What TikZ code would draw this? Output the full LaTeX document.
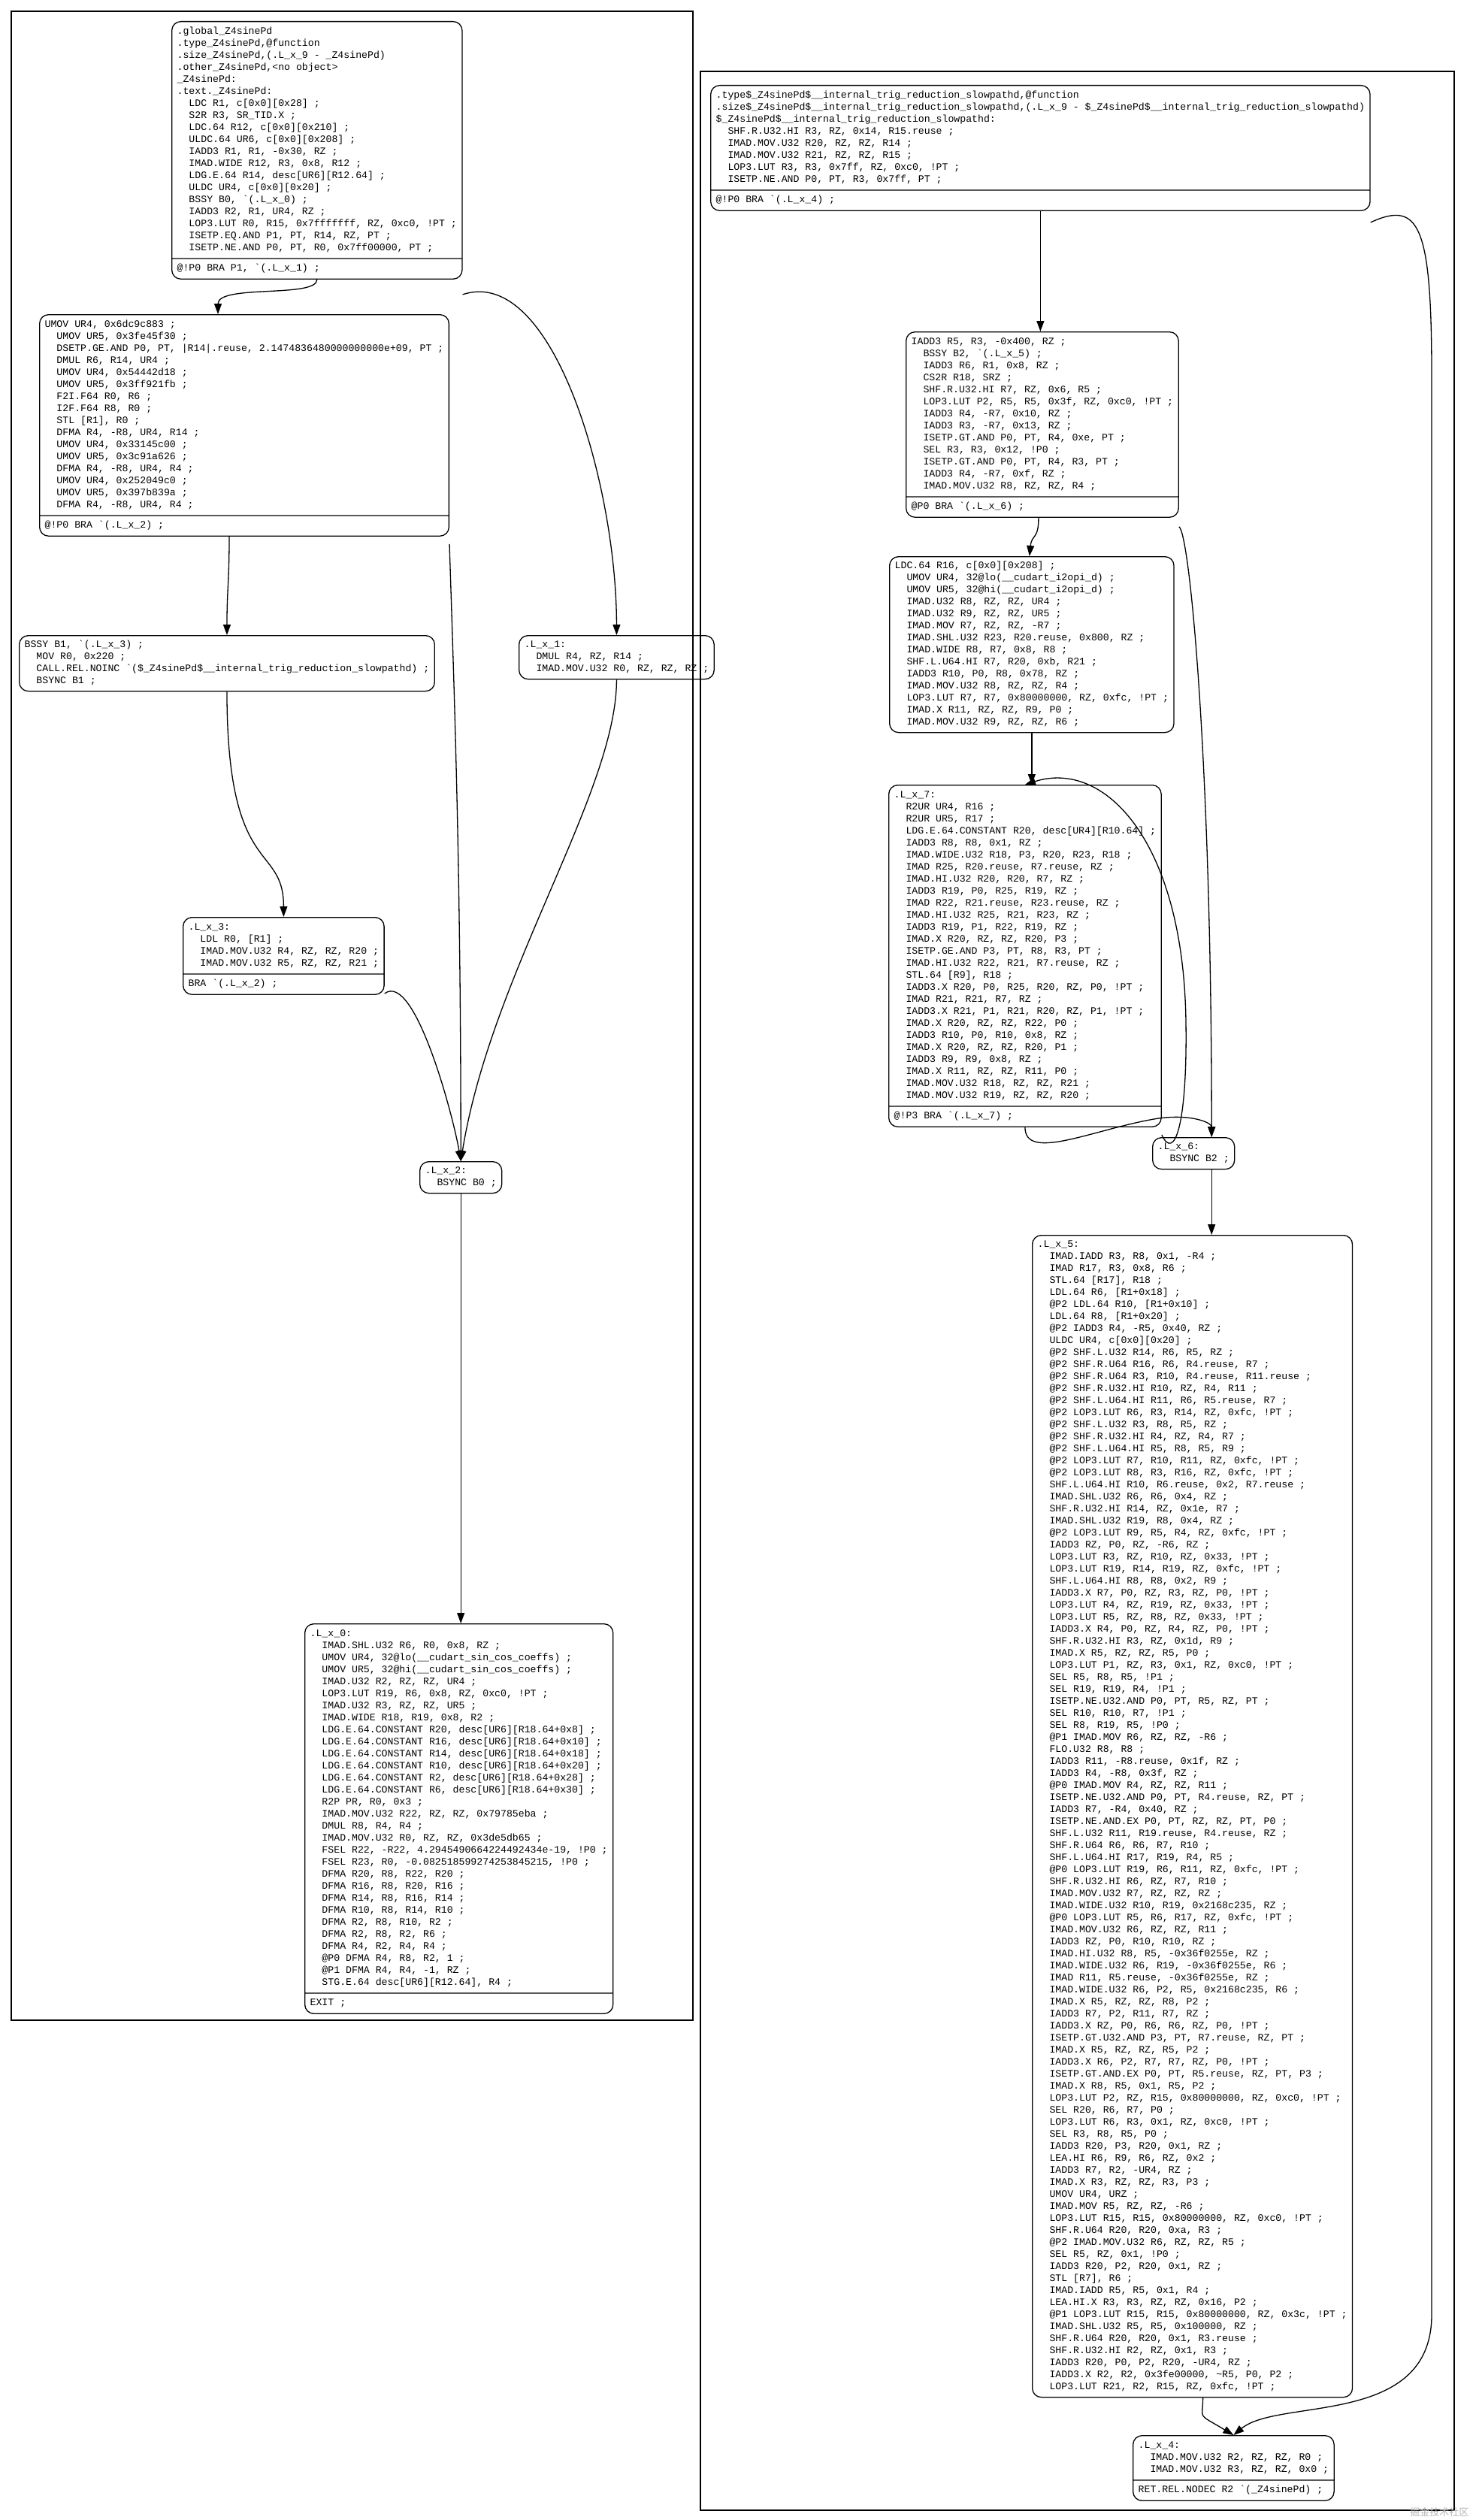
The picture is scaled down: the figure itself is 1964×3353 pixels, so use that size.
\documentclass[tikz,border=0pt]{standalone}
\usepackage{fontspec}
\setmonofont{Liberation Mono}
\newfontfamily\cjk{Noto Sans CJK SC}
\usetikzlibrary{shapes.multipart,arrows.meta,calc}
\newcommand{\code}{\ttfamily\fontsize{13.2}{16}\selectfont}
\newcommand{\ind}{\phantom{xx}}
\newcommand{\lines}[1]{\begin{tabular}{@{}l@{}}#1\end{tabular}}
\tikzset{
  bb/.style={draw, line width=1.3pt, rounded corners=12pt, anchor=north west,
    font=\code, inner xsep=7pt, inner ysep=5pt},
  blk/.style={bb, rectangle split, rectangle split parts=2,
    rectangle split part align=left},
  edge/.style={line width=1.3pt, -{Triangle[length=14pt,width=10pt]}},
  clu/.style={draw, line width=1.3pt}
}
\begin{document}
\begin{tikzpicture}[x=1pt,y=-1pt]
\useasboundingbox (0,0) rectangle (1964,3353);
%Cluster
	\draw[clu] (15,15) rectangle (922,2688);
	\draw[clu] (932,95) rectangle (1935,3340);
%linke Seite
	\node[blk] (entry) at (228,28) {\lines{.global\_Z4sinePd\\
.type\_Z4sinePd,@function\\
.size\_Z4sinePd,(.L\_x\_9 - \_Z4sinePd)\\
.other\_Z4sinePd,<no object>\\
\_Z4sinePd:\\
.text.\_Z4sinePd:\\
\ind LDC R1, c[0x0][0x28] ;\\
\ind S2R R3, SR\_TID.X ;\\
\ind LDC.64 R12, c[0x0][0x210] ;\\
\ind ULDC.64 UR6, c[0x0][0x208] ;\\
\ind IADD3 R1, R1, -0x30, RZ ;\\
\ind IMAD.WIDE R12, R3, 0x8, R12 ;\\
\ind LDG.E.64 R14, desc[UR6][R12.64] ;\\
\ind ULDC UR4, c[0x0][0x20] ;\\
\ind BSSY B0, `(.L\_x\_0) ;\\
\ind IADD3 R2, R1, UR4, RZ ;\\
\ind LOP3.LUT R0, R15, 0x7fffffff, RZ, 0xc0, !PT ;\\
\ind ISETP.EQ.AND P1, PT, R14, RZ, PT ;\\
\ind ISETP.NE.AND P0, PT, R0, 0x7ff00000, PT ;}
\nodepart{two}\lines{@!P0 BRA P1, `(.L\_x\_1) ;}};
	\node[blk] (fast) at (52,418) {\lines{UMOV UR4, 0x6dc9c883 ;\\
\ind UMOV UR5, 0x3fe45f30 ;\\
\ind DSETP.GE.AND P0, PT, |R14|.reuse, 2.1474836480000000000e+09, PT ;\\
\ind DMUL R6, R14, UR4 ;\\
\ind UMOV UR4, 0x54442d18 ;\\
\ind UMOV UR5, 0x3ff921fb ;\\
\ind F2I.F64 R0, R6 ;\\
\ind I2F.F64 R8, R0 ;\\
\ind STL [R1], R0 ;\\
\ind DFMA R4, -R8, UR4, R14 ;\\
\ind UMOV UR4, 0x33145c00 ;\\
\ind UMOV UR5, 0x3c91a626 ;\\
\ind DFMA R4, -R8, UR4, R4 ;\\
\ind UMOV UR4, 0x252049c0 ;\\
\ind UMOV UR5, 0x397b839a ;\\
\ind DFMA R4, -R8, UR4, R4 ;}
\nodepart{two}\lines{@!P0 BRA `(.L\_x\_2) ;}};
	\node[bb] (slow) at (25,845) {\lines{BSSY B1, `(.L\_x\_3) ;\\
\ind MOV R0, 0x220 ;\\
\ind CALL.REL.NOINC `(\$\_Z4sinePd\$\_\_internal\_trig\_reduction\_slowpathd) ;\\
\ind BSYNC B1 ;}};
	\node[bb] (L1) at (690,845) {\lines{.L\_x\_1:\\
\ind DMUL R4, RZ, R14 ;\\
\ind IMAD.MOV.U32 R0, RZ, RZ, RZ ;}};
	\node[blk] (L3) at (243,1220) {\lines{.L\_x\_3:\\
\ind LDL R0, [R1] ;\\
\ind IMAD.MOV.U32 R4, RZ, RZ, R20 ;\\
\ind IMAD.MOV.U32 R5, RZ, RZ, R21 ;}
\nodepart{two}\lines{BRA `(.L\_x\_2) ;}};
	\node[bb] (L2) at (558,1545) {\lines{.L\_x\_2:\\
\ind BSYNC B0 ;}};
	\node[blk] (L0) at (405,2160) {\lines{.L\_x\_0:\\
\ind IMAD.SHL.U32 R6, R0, 0x8, RZ ;\\
\ind UMOV UR4, 32@lo(\_\_cudart\_sin\_cos\_coeffs) ;\\
\ind UMOV UR5, 32@hi(\_\_cudart\_sin\_cos\_coeffs) ;\\
\ind IMAD.U32 R2, RZ, RZ, UR4 ;\\
\ind LOP3.LUT R19, R6, 0x8, RZ, 0xc0, !PT ;\\
\ind IMAD.U32 R3, RZ, RZ, UR5 ;\\
\ind IMAD.WIDE R18, R19, 0x8, R2 ;\\
\ind LDG.E.64.CONSTANT R20, desc[UR6][R18.64+0x8] ;\\
\ind LDG.E.64.CONSTANT R16, desc[UR6][R18.64+0x10] ;\\
\ind LDG.E.64.CONSTANT R14, desc[UR6][R18.64+0x18] ;\\
\ind LDG.E.64.CONSTANT R10, desc[UR6][R18.64+0x20] ;\\
\ind LDG.E.64.CONSTANT R2, desc[UR6][R18.64+0x28] ;\\
\ind LDG.E.64.CONSTANT R6, desc[UR6][R18.64+0x30] ;\\
\ind R2P PR, R0, 0x3 ;\\
\ind IMAD.MOV.U32 R22, RZ, RZ, 0x79785eba ;\\
\ind DMUL R8, R4, R4 ;\\
\ind IMAD.MOV.U32 R0, RZ, RZ, 0x3de5db65 ;\\
\ind FSEL R22, -R22, 4.2945490664224492434e-19, !P0 ;\\
\ind FSEL R23, R0, -0.082518599274253845215, !P0 ;\\
\ind DFMA R20, R8, R22, R20 ;\\
\ind DFMA R16, R8, R20, R16 ;\\
\ind DFMA R14, R8, R16, R14 ;\\
\ind DFMA R10, R8, R14, R10 ;\\
\ind DFMA R2, R8, R10, R2 ;\\
\ind DFMA R2, R8, R2, R6 ;\\
\ind DFMA R4, R2, R4, R4 ;\\
\ind @P0 DFMA R4, R8, R2, 1 ;\\
\ind @P1 DFMA R4, R4, -1, RZ ;\\
\ind STG.E.64 desc[UR6][R12.64], R4 ;}
\nodepart{two}\lines{EXIT ;}};
%rechte Seite
	\node[blk] (rentry) at (945,113) {\lines{.type\$\_Z4sinePd\$\_\_internal\_trig\_reduction\_slowpathd,@function\\
.size\$\_Z4sinePd\$\_\_internal\_trig\_reduction\_slowpathd,(.L\_x\_9 - \$\_Z4sinePd\$\_\_internal\_trig\_reduction\_slowpathd)\\
\$\_Z4sinePd\$\_\_internal\_trig\_reduction\_slowpathd:\\
\ind SHF.R.U32.HI R3, RZ, 0x14, R15.reuse ;\\
\ind IMAD.MOV.U32 R20, RZ, RZ, R14 ;\\
\ind IMAD.MOV.U32 R21, RZ, RZ, R15 ;\\
\ind LOP3.LUT R3, R3, 0x7ff, RZ, 0xc0, !PT ;\\
\ind ISETP.NE.AND P0, PT, R3, 0x7ff, PT ;}
\nodepart{two}\lines{@!P0 BRA `(.L\_x\_4) ;}};
	\node[blk] (red) at (1205,441) {\lines{IADD3 R5, R3, -0x400, RZ ;\\
\ind BSSY B2, `(.L\_x\_5) ;\\
\ind IADD3 R6, R1, 0x8, RZ ;\\
\ind CS2R R18, SRZ ;\\
\ind SHF.R.U32.HI R7, RZ, 0x6, R5 ;\\
\ind LOP3.LUT P2, R5, R5, 0x3f, RZ, 0xc0, !PT ;\\
\ind IADD3 R4, -R7, 0x10, RZ ;\\
\ind IADD3 R3, -R7, 0x13, RZ ;\\
\ind ISETP.GT.AND P0, PT, R4, 0xe, PT ;\\
\ind SEL R3, R3, 0x12, !P0 ;\\
\ind ISETP.GT.AND P0, PT, R4, R3, PT ;\\
\ind IADD3 R4, -R7, 0xf, RZ ;\\
\ind IMAD.MOV.U32 R8, RZ, RZ, R4 ;}
\nodepart{two}\lines{@P0 BRA `(.L\_x\_6) ;}};
	\node[bb] (pre) at (1183,740) {\lines{LDC.64 R16, c[0x0][0x208] ;\\
\ind UMOV UR4, 32@lo(\_\_cudart\_i2opi\_d) ;\\
\ind UMOV UR5, 32@hi(\_\_cudart\_i2opi\_d) ;\\
\ind IMAD.U32 R8, RZ, RZ, UR4 ;\\
\ind IMAD.U32 R9, RZ, RZ, UR5 ;\\
\ind IMAD.MOV R7, RZ, RZ, -R7 ;\\
\ind IMAD.SHL.U32 R23, R20.reuse, 0x800, RZ ;\\
\ind IMAD.WIDE R8, R7, 0x8, R8 ;\\
\ind SHF.L.U64.HI R7, R20, 0xb, R21 ;\\
\ind IADD3 R10, P0, R8, 0x78, RZ ;\\
\ind IMAD.MOV.U32 R8, RZ, RZ, R4 ;\\
\ind LOP3.LUT R7, R7, 0x80000000, RZ, 0xfc, !PT ;\\
\ind IMAD.X R11, RZ, RZ, R9, P0 ;\\
\ind IMAD.MOV.U32 R9, RZ, RZ, R6 ;}};
	\node[blk] (L7) at (1182,1044) {\lines{.L\_x\_7:\\
\ind R2UR UR4, R16 ;\\
\ind R2UR UR5, R17 ;\\
\ind LDG.E.64.CONSTANT R20, desc[UR4][R10.64] ;\\
\ind IADD3 R8, R8, 0x1, RZ ;\\
\ind IMAD.WIDE.U32 R18, P3, R20, R23, R18 ;\\
\ind IMAD R25, R20.reuse, R7.reuse, RZ ;\\
\ind IMAD.HI.U32 R20, R20, R7, RZ ;\\
\ind IADD3 R19, P0, R25, R19, RZ ;\\
\ind IMAD R22, R21.reuse, R23.reuse, RZ ;\\
\ind IMAD.HI.U32 R25, R21, R23, RZ ;\\
\ind IADD3 R19, P1, R22, R19, RZ ;\\
\ind IMAD.X R20, RZ, RZ, R20, P3 ;\\
\ind ISETP.GE.AND P3, PT, R8, R3, PT ;\\
\ind IMAD.HI.U32 R22, R21, R7.reuse, RZ ;\\
\ind STL.64 [R9], R18 ;\\
\ind IADD3.X R20, P0, R25, R20, RZ, P0, !PT ;\\
\ind IMAD R21, R21, R7, RZ ;\\
\ind IADD3.X R21, P1, R21, R20, RZ, P1, !PT ;\\
\ind IMAD.X R20, RZ, RZ, R22, P0 ;\\
\ind IADD3 R10, P0, R10, 0x8, RZ ;\\
\ind IMAD.X R20, RZ, RZ, R20, P1 ;\\
\ind IADD3 R9, R9, 0x8, RZ ;\\
\ind IMAD.X R11, RZ, RZ, R11, P0 ;\\
\ind IMAD.MOV.U32 R18, RZ, RZ, R21 ;\\
\ind IMAD.MOV.U32 R19, RZ, RZ, R20 ;}
\nodepart{two}\lines{@!P3 BRA `(.L\_x\_7) ;}};
	\node[bb] (L6) at (1533,1513) {\lines{.L\_x\_6:\\
\ind BSYNC B2 ;}};
	\node[bb] (L5) at (1373,1643) {\lines{.L\_x\_5:\\
\ind IMAD.IADD R3, R8, 0x1, -R4 ;\\
\ind IMAD R17, R3, 0x8, R6 ;\\
\ind STL.64 [R17], R18 ;\\
\ind LDL.64 R6, [R1+0x18] ;\\
\ind @P2 LDL.64 R10, [R1+0x10] ;\\
\ind LDL.64 R8, [R1+0x20] ;\\
\ind @P2 IADD3 R4, -R5, 0x40, RZ ;\\
\ind ULDC UR4, c[0x0][0x20] ;\\
\ind @P2 SHF.L.U32 R14, R6, R5, RZ ;\\
\ind @P2 SHF.R.U64 R16, R6, R4.reuse, R7 ;\\
\ind @P2 SHF.R.U64 R3, R10, R4.reuse, R11.reuse ;\\
\ind @P2 SHF.R.U32.HI R10, RZ, R4, R11 ;\\
\ind @P2 SHF.L.U64.HI R11, R6, R5.reuse, R7 ;\\
\ind @P2 LOP3.LUT R6, R3, R14, RZ, 0xfc, !PT ;\\
\ind @P2 SHF.L.U32 R3, R8, R5, RZ ;\\
\ind @P2 SHF.R.U32.HI R4, RZ, R4, R7 ;\\
\ind @P2 SHF.L.U64.HI R5, R8, R5, R9 ;\\
\ind @P2 LOP3.LUT R7, R10, R11, RZ, 0xfc, !PT ;\\
\ind @P2 LOP3.LUT R8, R3, R16, RZ, 0xfc, !PT ;\\
\ind SHF.L.U64.HI R10, R6.reuse, 0x2, R7.reuse ;\\
\ind IMAD.SHL.U32 R6, R6, 0x4, RZ ;\\
\ind SHF.R.U32.HI R14, RZ, 0x1e, R7 ;\\
\ind IMAD.SHL.U32 R19, R8, 0x4, RZ ;\\
\ind @P2 LOP3.LUT R9, R5, R4, RZ, 0xfc, !PT ;\\
\ind IADD3 RZ, P0, RZ, -R6, RZ ;\\
\ind LOP3.LUT R3, RZ, R10, RZ, 0x33, !PT ;\\
\ind LOP3.LUT R19, R14, R19, RZ, 0xfc, !PT ;\\
\ind SHF.L.U64.HI R8, R8, 0x2, R9 ;\\
\ind IADD3.X R7, P0, RZ, R3, RZ, P0, !PT ;\\
\ind LOP3.LUT R4, RZ, R19, RZ, 0x33, !PT ;\\
\ind LOP3.LUT R5, RZ, R8, RZ, 0x33, !PT ;\\
\ind IADD3.X R4, P0, RZ, R4, RZ, P0, !PT ;\\
\ind SHF.R.U32.HI R3, RZ, 0x1d, R9 ;\\
\ind IMAD.X R5, RZ, RZ, R5, P0 ;\\
\ind LOP3.LUT P1, RZ, R3, 0x1, RZ, 0xc0, !PT ;\\
\ind SEL R5, R8, R5, !P1 ;\\
\ind SEL R19, R19, R4, !P1 ;\\
\ind ISETP.NE.U32.AND P0, PT, R5, RZ, PT ;\\
\ind SEL R10, R10, R7, !P1 ;\\
\ind SEL R8, R19, R5, !P0 ;\\
\ind @P1 IMAD.MOV R6, RZ, RZ, -R6 ;\\
\ind FLO.U32 R8, R8 ;\\
\ind IADD3 R11, -R8.reuse, 0x1f, RZ ;\\
\ind IADD3 R4, -R8, 0x3f, RZ ;\\
\ind @P0 IMAD.MOV R4, RZ, RZ, R11 ;\\
\ind ISETP.NE.U32.AND P0, PT, R4.reuse, RZ, PT ;\\
\ind IADD3 R7, -R4, 0x40, RZ ;\\
\ind ISETP.NE.AND.EX P0, PT, RZ, RZ, PT, P0 ;\\
\ind SHF.L.U32 R11, R19.reuse, R4.reuse, RZ ;\\
\ind SHF.R.U64 R6, R6, R7, R10 ;\\
\ind SHF.L.U64.HI R17, R19, R4, R5 ;\\
\ind @P0 LOP3.LUT R19, R6, R11, RZ, 0xfc, !PT ;\\
\ind SHF.R.U32.HI R6, RZ, R7, R10 ;\\
\ind IMAD.MOV.U32 R7, RZ, RZ, RZ ;\\
\ind IMAD.WIDE.U32 R10, R19, 0x2168c235, RZ ;\\
\ind @P0 LOP3.LUT R5, R6, R17, RZ, 0xfc, !PT ;\\
\ind IMAD.MOV.U32 R6, RZ, RZ, R11 ;\\
\ind IADD3 RZ, P0, R10, R10, RZ ;\\
\ind IMAD.HI.U32 R8, R5, -0x36f0255e, RZ ;\\
\ind IMAD.WIDE.U32 R6, R19, -0x36f0255e, R6 ;\\
\ind IMAD R11, R5.reuse, -0x36f0255e, RZ ;\\
\ind IMAD.WIDE.U32 R6, P2, R5, 0x2168c235, R6 ;\\
\ind IMAD.X R5, RZ, RZ, R8, P2 ;\\
\ind IADD3 R7, P2, R11, R7, RZ ;\\
\ind IADD3.X RZ, P0, R6, R6, RZ, P0, !PT ;\\
\ind ISETP.GT.U32.AND P3, PT, R7.reuse, RZ, PT ;\\
\ind IMAD.X R5, RZ, RZ, R5, P2 ;\\
\ind IADD3.X R6, P2, R7, R7, RZ, P0, !PT ;\\
\ind ISETP.GT.AND.EX P0, PT, R5.reuse, RZ, PT, P3 ;\\
\ind IMAD.X R8, R5, 0x1, R5, P2 ;\\
\ind LOP3.LUT P2, RZ, R15, 0x80000000, RZ, 0xc0, !PT ;\\
\ind SEL R20, R6, R7, P0 ;\\
\ind LOP3.LUT R6, R3, 0x1, RZ, 0xc0, !PT ;\\
\ind SEL R3, R8, R5, P0 ;\\
\ind IADD3 R20, P3, R20, 0x1, RZ ;\\
\ind LEA.HI R6, R9, R6, RZ, 0x2 ;\\
\ind IADD3 R7, R2, -UR4, RZ ;\\
\ind IMAD.X R3, RZ, RZ, R3, P3 ;\\
\ind UMOV UR4, URZ ;\\
\ind IMAD.MOV R5, RZ, RZ, -R6 ;\\
\ind LOP3.LUT R15, R15, 0x80000000, RZ, 0xc0, !PT ;\\
\ind SHF.R.U64 R20, R20, 0xa, R3 ;\\
\ind @P2 IMAD.MOV.U32 R6, RZ, RZ, R5 ;\\
\ind SEL R5, RZ, 0x1, !P0 ;\\
\ind IADD3 R20, P2, R20, 0x1, RZ ;\\
\ind STL [R7], R6 ;\\
\ind IMAD.IADD R5, R5, 0x1, R4 ;\\
\ind LEA.HI.X R3, R3, RZ, RZ, 0x16, P2 ;\\
\ind @P1 LOP3.LUT R15, R15, 0x80000000, RZ, 0x3c, !PT ;\\
\ind IMAD.SHL.U32 R5, R5, 0x100000, RZ ;\\
\ind SHF.R.U64 R20, R20, 0x1, R3.reuse ;\\
\ind SHF.R.U32.HI R2, RZ, 0x1, R3 ;\\
\ind IADD3 R20, P0, P2, R20, -UR4, RZ ;\\
\ind IADD3.X R2, R2, 0x3fe00000, \textasciitilde R5, P0, P2 ;\\
\ind LOP3.LUT R21, R2, R15, RZ, 0xfc, !PT ;}};
	\node[blk] (L4) at (1507,3240) {\lines{.L\_x\_4:\\
\ind IMAD.MOV.U32 R2, RZ, RZ, R0 ;\\
\ind IMAD.MOV.U32 R3, RZ, RZ, 0x0 ;}
\nodepart{two}\lines{RET.REL.NODEC R2 `(\_Z4sinePd) ;}};
%Kanten links
	\draw[edge] (entry.south) .. controls ($(entry.south)+(0,25)$) and ($(fast.north)+(-35,-40)$) .. ([xshift=-35pt]fast.north);
	\draw[edge] ([yshift=-20pt]entry.south east) .. controls ($(entry.south east)+(120,-20)$) and ($(L1.north)+(0,-200)$) .. (L1.north);
	\draw[edge] ([xshift=-20pt]fast.south) .. controls ($(fast.south)+(-20,60)$) and ($(slow.north)+(0,-60)$) .. (slow.north);
	\draw[edge] (slow.south) .. controls ($(slow.south)+(0,250)$) and ($(L3.north)+(0,-100)$) .. (L3.north);
	\draw[edge] ([yshift=-10pt]fast.south east) .. controls ($(fast.south east)+(6,200)$) and ($(L2.north)+(0,-400)$) .. (L2.north);
	\draw[edge] (L1.south) .. controls ($(L1.south)+(0,150)$) and ($(L2.north)+(40,-250)$) .. (L2.north);
	\draw[edge] ([yshift=-50pt]L3.east) .. controls ($(L3.east)+(40,20)$) and ($(L2.north)+(-10,-60)$) .. (L2.north);
	\draw[edge] (L2.south) -- (L2.south |- L0.north);
%Kanten rechts
	\draw[edge] (rentry.south) -- (rentry.south |- red.north);
	\draw[edge] ([yshift=-15pt]rentry.south east) .. controls ($(rentry.south east)+(65,-15)$) and (1905,300) .. (1905,500) -- (1905,3080) .. controls (1905,3230) and ($(L4.north)+(60,-50)$) .. (L4.north);
	\draw[edge] ([xshift=-5pt]red.south) .. controls ($(red.south)+(-5,30)$) and ($(pre.north)+(0,-30)$) .. ([xshift=-3pt]pre.north);
	\draw[edge] ([yshift=-12pt]red.south east) .. controls ($(red.south east)+(14,20)$) and ($(L6.north)+(24,-500)$) .. ([xshift=24pt]L6.north);
	\draw[edge] (pre.south) -- (pre.south |- L7.north);
	\draw[edge] ([yshift=-10pt]L7.south east) .. controls (1562,1545) and (1580,1500) .. (1578,1360) .. controls (1575,1120) and (1470,1010) .. (L7.north);
	\draw[edge] (L7.south) .. controls ($(L7.south)+(0,45)$) and (1450,1505) .. (1530,1490) .. controls (1580,1480) and ($(L6.north)+(24,-20)$) .. ([xshift=24pt]L6.north);
	\draw[edge] ([xshift=24pt]L6.south) -- ([xshift=24pt]L6.south |- L5.north);
	\draw[edge] ([xshift=14pt]L5.south) .. controls ($(L5.south)+(14,30)$) and ($(L4.north)+(-50,-30)$) .. (L4.north);
%Wasserzeichen
	\node[text=gray!60, font=\cjk\fontsize{13}{15}\selectfont, anchor=east] (wm) at (1958,3342) {掘金技术社区};
\end{tikzpicture}
\end{document}
